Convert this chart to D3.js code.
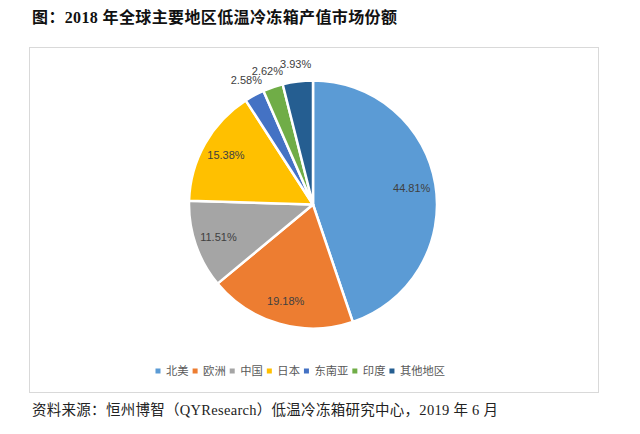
<!DOCTYPE html>
<html>
<head>
<meta charset="utf-8">
<script src="https://cdn.jsdelivr.net/npm/d3@7"></script>
<style>
  html, body { margin: 0; padding: 0; background: #fff; }
  svg { display: block; }
</style>
</head>
<body>
<svg id="chart" width="640" height="434"></svg>
<script>
const titleText = "图：2018 年全球主要地区低温冷冻箱产值市场份额";
const sourceText = "资料来源：恒州博智（QYResearch）低温冷冻箱研究中心，2019 年 6 月";
const categories = ["北美", "欧洲", "中国", "日本", "东南亚", "印度", "其他地区"];
const values = [44.81, 19.18, 11.51, 15.38, 2.58, 2.62, 3.93];
const labels = ["44.81%", "19.18%", "11.51%", "15.38%", "2.58%", "2.62%", "3.93%"];
const colors = ["#5B9BD5", "#ED7D31", "#A5A5A5", "#FFC000", "#4472C4", "#70AD47", "#255E91"];

const svg = d3.select("#chart");

// title
svg.append("text")
  .attr("x", 32).attr("y", 22.5)
  .attr("font-family", "'Liberation Serif', 'Noto Sans CJK SC', serif")
  .attr("font-weight", "bold")
  .attr("font-size", 16)
  .attr("fill", "#111")
  .attr("textLength", 365)
  .attr("lengthAdjust", "spacing")
  .text(titleText);

// chart frame
svg.append("rect")
  .attr("x", 29.5).attr("y", 47.5)
  .attr("width", 569).attr("height", 345)
  .attr("fill", "#fff")
  .attr("stroke", "#d9d9d9")
  .attr("stroke-width", 1);

const cx = 313, cy = 204.5, R = 124;
const g = svg.append("g").attr("transform", `translate(${cx},${cy})`);

const color = d3.scaleOrdinal().domain(categories).range(colors);
const pie = d3.pie().sort(null).value(d => d.v);
const data = categories.map((c, i) => ({ c, v: values[i], l: labels[i] }));
const arcs = pie(data);
const arc = d3.arc().innerRadius(0).outerRadius(R);

g.selectAll("path.slice").data(arcs).enter().append("path")
  .attr("class", "slice")
  .attr("d", arc)
  .attr("fill", d => color(d.data.c))
  .attr("stroke", "#fff")
  .attr("stroke-width", 2.5)
  .attr("stroke-linejoin", "round");

const inner = d3.arc().innerRadius(100).outerRadius(100);
const outer = d3.arc().innerRadius(141).outerRadius(141);

g.selectAll("text.lbl").data(arcs).enter().append("text")
  .attr("class", "lbl")
  .attr("transform", d => `translate(${(d.data.v > 5 ? inner : outer).centroid(d)})`)
  .attr("text-anchor", "middle")
  .attr("dy", "0.35em")
  .attr("font-family", "'Liberation Sans', Arial, sans-serif")
  .attr("font-size", 11)
  .attr("fill", "#404040")
  .text(d => d.data.l);

// legend
const legend = svg.append("g").attr("transform", "translate(155.5,371)");
let x = 0;
categories.forEach((c, i) => {
  const item = legend.append("g").attr("transform", `translate(${x},0)`);
  item.append("rect")
    .attr("x", 0).attr("y", -2.5)
    .attr("width", 5).attr("height", 5)
    .attr("fill", color(c));
  const t = item.append("text")
    .attr("x", 10.5).attr("y", 0).attr("dy", "0.35em")
    .attr("font-family", "'Noto Sans CJK SC', sans-serif")
    .attr("font-size", 11.3)
    .attr("fill", "#595959")
    .text(c);
  const w = t.node().getComputedTextLength();
  x += 10.5 + w + 4;
});

// source
svg.append("text")
  .attr("x", 32).attr("y", 415)
  .attr("font-family", "'Liberation Serif', 'Noto Sans CJK SC', serif")
  .attr("font-size", 14.5)
  .attr("fill", "#222")
  .attr("textLength", 466)
  .attr("lengthAdjust", "spacing")
  .text(sourceText);
</script>
</body>
</html>
